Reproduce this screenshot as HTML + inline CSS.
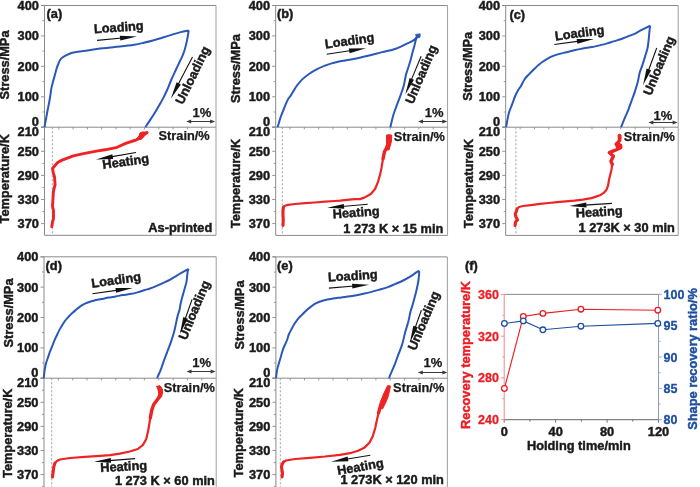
<!DOCTYPE html>
<html><head><meta charset="utf-8"><style>
html,body{margin:0;padding:0;background:#fff;overflow:hidden;}
svg{display:block;}
text{font-family:"Liberation Sans", Arial, sans-serif;font-weight:bold;}
</style></head><body>
<svg width="700" height="487" viewBox="0 0 700 487">
<rect width="700" height="487" fill="#fff"/>
<path d="M216.0,5.5 V235.3" fill="none" stroke="#a6a6a6" stroke-width="1.1"/>
<path d="M41.0,5.5 H216.0 M44.5,5.5 V235.3 H216.0 M41.0,127.2 H216.0" fill="none" stroke="#8a8a8a" stroke-width="1"/>
<path d="M41.0,127.2H44.5 M42.5,112.0H44.5 M41.0,96.8H44.5 M42.5,81.6H44.5 M41.0,66.3H44.5 M42.5,51.1H44.5 M41.0,35.9H44.5 M42.5,20.7H44.5 M41.0,5.5H44.5 M41.0,127.2H44.5 M42.5,139.2H44.5 M41.0,151.3H44.5 M42.5,163.4H44.5 M41.0,175.4H44.5 M42.5,187.4H44.5 M41.0,199.5H44.5 M42.5,211.6H44.5 M41.0,223.6H44.5 M58.8,127.2V129.4 M73.1,127.2V129.4 M87.4,127.2V129.4 M101.7,127.2V129.4 M116.0,127.2V129.4 M130.2,127.2V129.4 M144.5,127.2V129.4 M158.8,127.2V129.4 M173.1,127.2V129.4 M187.4,127.2V129.4 M201.7,127.2V129.4" stroke="#8a8a8a" stroke-width="0.9" fill="none"/>
<line x1="52.3" y1="127.2" x2="52.3" y2="235.3" stroke="#9a9a9a" stroke-width="0.9" stroke-dasharray="2.2,1.8"/>
<text transform="translate(38.90,9.90)" font-size="12.8" text-anchor="end" fill="#1a1a1a" stroke="#1a1a1a" stroke-width="0.45">400</text>
<text transform="translate(38.90,40.32)" font-size="12.8" text-anchor="end" fill="#1a1a1a" stroke="#1a1a1a" stroke-width="0.45">300</text>
<text transform="translate(38.90,70.75)" font-size="12.8" text-anchor="end" fill="#1a1a1a" stroke="#1a1a1a" stroke-width="0.45">200</text>
<text transform="translate(38.90,101.18)" font-size="12.8" text-anchor="end" fill="#1a1a1a" stroke="#1a1a1a" stroke-width="0.45">100</text>
<text transform="translate(38.90,126.00)" font-size="12.8" text-anchor="end" fill="#1a1a1a" stroke="#1a1a1a" stroke-width="0.45">0</text>
<text transform="translate(38.90,136.00)" font-size="12.8" text-anchor="end" fill="#1a1a1a" stroke="#1a1a1a" stroke-width="0.45">210</text>
<text transform="translate(38.90,155.70)" font-size="12.8" text-anchor="end" fill="#1a1a1a" stroke="#1a1a1a" stroke-width="0.45">250</text>
<text transform="translate(38.90,179.80)" font-size="12.8" text-anchor="end" fill="#1a1a1a" stroke="#1a1a1a" stroke-width="0.45">290</text>
<text transform="translate(38.90,203.90)" font-size="12.8" text-anchor="end" fill="#1a1a1a" stroke="#1a1a1a" stroke-width="0.45">330</text>
<text transform="translate(38.90,228.00)" font-size="12.8" text-anchor="end" fill="#1a1a1a" stroke="#1a1a1a" stroke-width="0.45">370</text>
<text transform="translate(9.30,65.00) rotate(-90)" font-size="12.8" text-anchor="middle" fill="#1a1a1a" stroke="#1a1a1a" stroke-width="0.45">Stress/MPa</text>
<text transform="translate(9.30,178.80) rotate(-90)" font-size="12.8" text-anchor="middle" fill="#1a1a1a" stroke="#1a1a1a" stroke-width="0.45">Temperature/K</text>
<text transform="translate(46.60,17.90)" font-size="12.8" text-anchor="start" fill="#1a1a1a" stroke="#1a1a1a" stroke-width="0.45">(a)</text>
<path d="M44.60,127.20 C44.68,126.60 44.83,125.13 45.10,123.60 C45.37,122.07 45.82,120.07 46.20,118.00 C46.58,115.93 46.93,113.65 47.40,111.20 C47.87,108.75 48.53,105.75 49.00,103.30 C49.47,100.85 49.82,98.95 50.20,96.50 C50.58,94.05 50.83,91.05 51.30,88.60 C51.77,86.15 52.38,84.15 53.00,81.80 C53.62,79.45 54.40,76.72 55.00,74.50 C55.60,72.28 56.02,70.33 56.60,68.50 C57.18,66.67 57.88,64.95 58.50,63.50 C59.12,62.05 59.58,60.83 60.30,59.80 C61.02,58.77 61.77,58.07 62.80,57.30 C63.83,56.53 65.05,55.92 66.50,55.20 C67.95,54.48 69.65,53.57 71.50,53.00 C73.35,52.43 74.93,52.23 77.60,51.80 C80.27,51.37 83.77,50.93 87.50,50.40 C91.23,49.87 96.25,49.07 100.00,48.60 C103.75,48.13 106.67,47.93 110.00,47.60 C113.33,47.27 115.95,47.08 120.00,46.60 C124.05,46.12 130.37,45.33 134.30,44.70 C138.23,44.07 140.50,43.50 143.60,42.80 C146.70,42.10 149.82,41.35 152.90,40.50 C155.98,39.65 159.02,38.63 162.10,37.70 C165.18,36.77 168.30,35.83 171.40,34.90 C174.50,33.97 177.80,32.85 180.70,32.10 C183.60,31.35 187.45,30.68 188.80,30.40M188.80,30.40 C188.72,30.83 188.63,31.17 188.30,33.00 C187.97,34.83 187.40,38.62 186.80,41.40 C186.20,44.18 185.45,47.23 184.70,49.70 C183.95,52.17 183.00,54.48 182.30,56.20 C181.60,57.92 181.58,57.70 180.50,60.00 C179.42,62.30 177.35,66.67 175.80,70.00 C174.25,73.33 172.65,76.67 171.20,80.00 C169.75,83.33 168.37,87.10 167.10,90.00 C165.83,92.90 164.75,95.15 163.60,97.40 C162.45,99.65 161.37,101.45 160.20,103.50 C159.03,105.55 157.78,107.70 156.60,109.70 C155.42,111.70 154.22,113.72 153.10,115.50 C151.98,117.28 150.98,118.77 149.90,120.40 C148.82,122.03 147.33,124.17 146.60,125.30 C145.87,126.43 145.68,126.88 145.50,127.20" fill="none" stroke="#2a58b8" stroke-width="2.0" stroke-linejoin="round"/>
<polyline points="51.8,226.6 52.5,222.0 53.5,218.5 53.5,210.8 52.5,206.2 52.9,200.0 53.5,190.8 55.1,184.6 54.5,176.9 53.2,172.3 52.5,168.5 55.0,165.5 57.9,162.3 62.1,160.1 73.3,155.9 83.6,153.7 96.4,151.1 105.0,149.8 117.1,147.3 125.7,143.4 136.0,140.0 141.1,137.9 145.0,134.0 147.1,132.5" fill="none" stroke="#ee2424" stroke-width="2.9" stroke-linejoin="round" stroke-linecap="round"/>
<polygon points="136.0,139.0 139.0,136.0 140.0,133.0 142.0,132.0 147.6,132.0 147.5,133.5 144.0,134.5 143.0,137.0 141.0,139.5" fill="#ee2424" stroke="#ee2424" stroke-width="1" stroke-linejoin="round"/>
<text transform="translate(94.20,33.30) rotate(-4)" font-size="12.8" text-anchor="start" fill="#1a1a1a" stroke="#1a1a1a" stroke-width="0.45">Loading</text>
<line x1="97.0" y1="40.4" x2="122.1" y2="38.0" stroke="#111" stroke-width="1.1"/>
<polygon points="137.0,36.6 120.3,40.6 119.8,35.8" fill="#111"/>
<text transform="translate(196.40,77.10) rotate(-64)" font-size="12.8" text-anchor="middle" fill="#1a1a1a" stroke="#1a1a1a" stroke-width="0.45">Unloading</text>
<line x1="192.5" y1="56.9" x2="177.8" y2="85.1" stroke="#111" stroke-width="1.1"/>
<polygon points="170.9,98.4 176.6,82.2 180.9,84.4" fill="#111"/>
<text transform="translate(211.40,116.60)" font-size="13" text-anchor="end" fill="#1a1a1a" stroke="#1a1a1a" stroke-width="0.25">1%</text>
<line x1="189.2" y1="121.5" x2="212.1" y2="121.5" stroke="#3a3a3a" stroke-width="1"/>
<polygon points="186.2,121.5 191.2,119.6 191.2,123.4" fill="#3a3a3a"/>
<polygon points="215.1,121.5 210.1,119.6 210.1,123.4" fill="#3a3a3a"/>
<text transform="translate(209.70,140.40)" font-size="12.8" text-anchor="end" fill="#1a1a1a" stroke="#1a1a1a" stroke-width="0.25">Strain/%</text>
<text transform="translate(103.00,169.00) rotate(-8)" font-size="12.8" text-anchor="start" fill="#1a1a1a" stroke="#1a1a1a" stroke-width="0.45">Heating</text>
<line x1="136.0" y1="152.5" x2="110.8" y2="156.9" stroke="#111" stroke-width="1.1"/>
<polygon points="96.0,159.5 112.3,154.2 113.2,158.9" fill="#111"/>
<text transform="translate(212.30,231.90)" font-size="12.8" text-anchor="end" fill="#1a1a1a" stroke="#1a1a1a" stroke-width="0.45">As-printed</text>
<path d="M447.5,5.5 V235.4" fill="none" stroke="#a6a6a6" stroke-width="1.1"/>
<path d="M272.2,5.5 H447.5 M275.7,5.5 V235.4 H447.5 M272.2,127.2 H447.5" fill="none" stroke="#8a8a8a" stroke-width="1"/>
<path d="M272.2,127.2H275.7 M273.7,112.0H275.7 M272.2,96.8H275.7 M273.7,81.6H275.7 M272.2,66.3H275.7 M273.7,51.1H275.7 M272.2,35.9H275.7 M273.7,20.7H275.7 M272.2,5.5H275.7 M272.2,127.2H275.7 M273.7,139.2H275.7 M272.2,151.3H275.7 M273.7,163.4H275.7 M272.2,175.4H275.7 M273.7,187.4H275.7 M272.2,199.5H275.7 M273.7,211.6H275.7 M272.2,223.6H275.7 M290.0,127.2V129.4 M304.3,127.2V129.4 M318.6,127.2V129.4 M333.0,127.2V129.4 M347.3,127.2V129.4 M361.6,127.2V129.4 M375.9,127.2V129.4 M390.2,127.2V129.4 M404.6,127.2V129.4 M418.9,127.2V129.4 M433.2,127.2V129.4" stroke="#8a8a8a" stroke-width="0.9" fill="none"/>
<line x1="282.3" y1="127.2" x2="282.3" y2="235.4" stroke="#9a9a9a" stroke-width="0.9" stroke-dasharray="2.2,1.8"/>
<text transform="translate(270.10,9.90)" font-size="12.8" text-anchor="end" fill="#1a1a1a" stroke="#1a1a1a" stroke-width="0.45">400</text>
<text transform="translate(270.10,40.32)" font-size="12.8" text-anchor="end" fill="#1a1a1a" stroke="#1a1a1a" stroke-width="0.45">300</text>
<text transform="translate(270.10,70.75)" font-size="12.8" text-anchor="end" fill="#1a1a1a" stroke="#1a1a1a" stroke-width="0.45">200</text>
<text transform="translate(270.10,101.18)" font-size="12.8" text-anchor="end" fill="#1a1a1a" stroke="#1a1a1a" stroke-width="0.45">100</text>
<text transform="translate(270.10,126.00)" font-size="12.8" text-anchor="end" fill="#1a1a1a" stroke="#1a1a1a" stroke-width="0.45">0</text>
<text transform="translate(270.10,136.00)" font-size="12.8" text-anchor="end" fill="#1a1a1a" stroke="#1a1a1a" stroke-width="0.45">210</text>
<text transform="translate(270.10,155.70)" font-size="12.8" text-anchor="end" fill="#1a1a1a" stroke="#1a1a1a" stroke-width="0.45">250</text>
<text transform="translate(270.10,179.80)" font-size="12.8" text-anchor="end" fill="#1a1a1a" stroke="#1a1a1a" stroke-width="0.45">290</text>
<text transform="translate(270.10,203.90)" font-size="12.8" text-anchor="end" fill="#1a1a1a" stroke="#1a1a1a" stroke-width="0.45">330</text>
<text transform="translate(270.10,228.00)" font-size="12.8" text-anchor="end" fill="#1a1a1a" stroke="#1a1a1a" stroke-width="0.45">370</text>
<text transform="translate(239.60,68.60) rotate(-90)" font-size="12.8" text-anchor="middle" fill="#1a1a1a" stroke="#1a1a1a" stroke-width="0.45">Stress/MPa</text>
<text transform="translate(240.00,183.50) rotate(-90)" font-size="12.8" text-anchor="middle" fill="#1a1a1a" stroke="#1a1a1a" stroke-width="0.45">Temperature/K</text>
<text transform="translate(277.00,17.90)" font-size="12.8" text-anchor="start" fill="#1a1a1a" stroke="#1a1a1a" stroke-width="0.45">(b)</text>
<path d="M277.60,127.20 C277.90,126.18 278.87,122.87 279.40,121.10 C279.93,119.33 280.27,118.10 280.80,116.60 C281.33,115.10 282.00,113.60 282.60,112.10 C283.20,110.60 283.80,109.10 284.40,107.60 C285.00,106.10 285.52,104.62 286.20,103.10 C286.88,101.58 287.67,99.87 288.50,98.50 C289.33,97.13 290.30,96.25 291.20,94.90 C292.10,93.55 292.93,91.97 293.90,90.40 C294.87,88.83 295.62,87.33 297.00,85.50 C298.38,83.67 300.13,81.37 302.20,79.40 C304.27,77.43 307.00,75.37 309.40,73.70 C311.80,72.03 314.22,70.67 316.60,69.40 C318.98,68.13 321.32,67.07 323.70,66.10 C326.08,65.13 328.50,64.32 330.90,63.60 C333.30,62.88 335.75,62.32 338.10,61.80 C340.45,61.28 342.42,60.97 345.00,60.50 C347.58,60.03 349.78,59.80 353.60,59.00 C357.42,58.20 363.15,56.85 367.90,55.70 C372.65,54.55 377.58,53.22 382.10,52.10 C386.62,50.98 391.13,50.28 395.00,49.00 C398.87,47.72 402.22,45.85 405.30,44.40 C408.38,42.95 411.37,41.75 413.50,40.30 C415.63,38.85 417.33,36.47 418.10,35.70M418.10,35.70 C417.77,36.28 416.70,37.58 416.10,39.20 C415.50,40.82 415.10,43.17 414.50,45.40 C413.90,47.63 413.18,50.03 412.50,52.60 C411.82,55.17 411.18,58.07 410.40,60.80 C409.62,63.53 408.55,66.63 407.80,69.00 C407.05,71.37 406.60,72.12 405.90,75.00 C405.20,77.88 404.63,82.53 403.60,86.30 C402.57,90.07 400.92,94.22 399.70,97.60 C398.48,100.98 397.33,103.78 396.30,106.60 C395.27,109.42 394.35,111.68 393.50,114.50 C392.65,117.32 391.72,121.38 391.20,123.50 C390.68,125.62 390.53,126.58 390.40,127.20" fill="none" stroke="#2a58b8" stroke-width="2.0" stroke-linejoin="round"/>
<polyline points="283.0,225.5 283.2,220.0 283.0,215.0 283.0,210.0 283.5,207.0 285.0,205.8 288.0,204.8 295.0,204.0 305.0,203.2 315.0,202.5 325.0,201.7 335.0,201.0 340.0,200.6 349.2,199.6 355.0,199.2 360.0,199.1 364.3,197.6 370.8,194.0 375.1,189.0 378.0,181.8 380.1,174.6 381.6,167.4 383.0,158.8 384.5,151.6 386.5,148.0 388.5,143.0 389.0,136.0" fill="none" stroke="#ee2424" stroke-width="2.2" stroke-linejoin="round" stroke-linecap="round"/>
<polygon points="415.6,34.5 420.2,33.8 420.0,37.3 416.5,38.0" fill="#2a58b8" stroke="#2a58b8" stroke-width="0.8" stroke-linejoin="round"/>
<polyline points="283.0,225.5 283.2,220.0 283.0,215.0 283.0,210.0 283.5,207.0" fill="none" stroke="#ee2424" stroke-width="3.0" stroke-linejoin="round" stroke-linecap="round"/>
<polyline points="383.0,158.8 384.5,151.6 386.5,148.0 388.5,143.0 389.0,136.0" fill="none" stroke="#ee2424" stroke-width="3.4" stroke-linejoin="round" stroke-linecap="round"/>
<polygon points="386.5,135.0 391.7,135.0 391.5,141.0 390.5,145.0 389.0,150.0 386.8,150.0 387.0,146.0 386.5,141.0" fill="#ee2424" stroke="#ee2424" stroke-width="1" stroke-linejoin="round"/>
<text transform="translate(325.40,48.40) rotate(-8)" font-size="12.8" text-anchor="start" fill="#1a1a1a" stroke="#1a1a1a" stroke-width="0.45">Loading</text>
<line x1="326.7" y1="54.3" x2="351.2" y2="50.5" stroke="#111" stroke-width="1.1"/>
<polygon points="366.0,48.2 349.6,53.2 348.8,48.4" fill="#111"/>
<text transform="translate(425.15,76.05) rotate(-67)" font-size="12.8" text-anchor="middle" fill="#1a1a1a" stroke="#1a1a1a" stroke-width="0.45">Unloading</text>
<line x1="421.1" y1="56.2" x2="411.0" y2="80.6" stroke="#111" stroke-width="1.1"/>
<polygon points="405.3,94.5 409.6,77.9 414.0,79.7" fill="#111"/>
<text transform="translate(443.60,117.40)" font-size="13" text-anchor="end" fill="#1a1a1a" stroke="#1a1a1a" stroke-width="0.25">1%</text>
<line x1="421.0" y1="121.5" x2="444.3" y2="121.5" stroke="#3a3a3a" stroke-width="1"/>
<polygon points="418.0,121.5 423.0,119.6 423.0,123.4" fill="#3a3a3a"/>
<polygon points="447.3,121.5 442.3,119.6 442.3,123.4" fill="#3a3a3a"/>
<text transform="translate(444.90,140.90)" font-size="12.8" text-anchor="end" fill="#1a1a1a" stroke="#1a1a1a" stroke-width="0.25">Strain/%</text>
<text transform="translate(333.00,218.50) rotate(-4)" font-size="12.8" text-anchor="start" fill="#1a1a1a" stroke="#1a1a1a" stroke-width="0.45">Heating</text>
<line x1="367.7" y1="204.2" x2="342.0" y2="206.5" stroke="#111" stroke-width="1.1"/>
<polygon points="327.1,207.8 343.8,203.9 344.2,208.7" fill="#111"/>
<text transform="translate(443.30,233.00)" font-size="12.8" text-anchor="end" fill="#1a1a1a" stroke="#1a1a1a" stroke-width="0.45">1 273 K × 15 min</text>
<path d="M678.2,5.5 V235.4" fill="none" stroke="#a6a6a6" stroke-width="1.1"/>
<path d="M502.2,5.5 H678.2 M505.7,5.5 V235.4 H678.2 M502.2,127.2 H678.2" fill="none" stroke="#8a8a8a" stroke-width="1"/>
<path d="M502.2,127.2H505.7 M503.7,112.0H505.7 M502.2,96.8H505.7 M503.7,81.6H505.7 M502.2,66.3H505.7 M503.7,51.1H505.7 M502.2,35.9H505.7 M503.7,20.7H505.7 M502.2,5.5H505.7 M502.2,127.2H505.7 M503.7,139.2H505.7 M502.2,151.3H505.7 M503.7,163.4H505.7 M502.2,175.4H505.7 M503.7,187.4H505.7 M502.2,199.5H505.7 M503.7,211.6H505.7 M502.2,223.6H505.7 M520.1,127.2V129.4 M534.5,127.2V129.4 M548.8,127.2V129.4 M563.2,127.2V129.4 M577.6,127.2V129.4 M592.0,127.2V129.4 M606.3,127.2V129.4 M620.7,127.2V129.4 M635.1,127.2V129.4 M649.5,127.2V129.4 M663.8,127.2V129.4" stroke="#8a8a8a" stroke-width="0.9" fill="none"/>
<line x1="515.9" y1="127.2" x2="515.9" y2="235.4" stroke="#9a9a9a" stroke-width="0.9" stroke-dasharray="2.2,1.8"/>
<text transform="translate(500.10,9.90)" font-size="12.8" text-anchor="end" fill="#1a1a1a" stroke="#1a1a1a" stroke-width="0.45">400</text>
<text transform="translate(500.10,40.32)" font-size="12.8" text-anchor="end" fill="#1a1a1a" stroke="#1a1a1a" stroke-width="0.45">300</text>
<text transform="translate(500.10,70.75)" font-size="12.8" text-anchor="end" fill="#1a1a1a" stroke="#1a1a1a" stroke-width="0.45">200</text>
<text transform="translate(500.10,101.18)" font-size="12.8" text-anchor="end" fill="#1a1a1a" stroke="#1a1a1a" stroke-width="0.45">100</text>
<text transform="translate(500.10,126.00)" font-size="12.8" text-anchor="end" fill="#1a1a1a" stroke="#1a1a1a" stroke-width="0.45">0</text>
<text transform="translate(500.10,136.00)" font-size="12.8" text-anchor="end" fill="#1a1a1a" stroke="#1a1a1a" stroke-width="0.45">210</text>
<text transform="translate(500.10,155.70)" font-size="12.8" text-anchor="end" fill="#1a1a1a" stroke="#1a1a1a" stroke-width="0.45">250</text>
<text transform="translate(500.10,179.80)" font-size="12.8" text-anchor="end" fill="#1a1a1a" stroke="#1a1a1a" stroke-width="0.45">290</text>
<text transform="translate(500.10,203.90)" font-size="12.8" text-anchor="end" fill="#1a1a1a" stroke="#1a1a1a" stroke-width="0.45">330</text>
<text transform="translate(500.10,228.00)" font-size="12.8" text-anchor="end" fill="#1a1a1a" stroke="#1a1a1a" stroke-width="0.45">370</text>
<text transform="translate(472.40,66.30) rotate(-90)" font-size="12.8" text-anchor="middle" fill="#1a1a1a" stroke="#1a1a1a" stroke-width="0.45">Stress/MPa</text>
<text transform="translate(473.20,183.50) rotate(-90)" font-size="12.8" text-anchor="middle" fill="#1a1a1a" stroke="#1a1a1a" stroke-width="0.45">Temperature/K</text>
<text transform="translate(509.40,19.00)" font-size="12.8" text-anchor="start" fill="#1a1a1a" stroke="#1a1a1a" stroke-width="0.45">(c)</text>
<path d="M506.10,127.20 C506.30,126.07 506.85,122.73 507.30,120.40 C507.75,118.07 508.20,115.35 508.80,113.20 C509.40,111.05 510.18,109.42 510.90,107.50 C511.62,105.58 512.38,103.62 513.10,101.70 C513.82,99.78 514.37,97.92 515.20,96.00 C516.03,94.08 517.13,91.88 518.10,90.20 C519.07,88.52 519.92,87.73 521.00,85.90 C522.08,84.07 523.28,81.12 524.60,79.20 C525.92,77.28 527.47,75.92 528.90,74.40 C530.33,72.88 531.52,71.73 533.20,70.10 C534.88,68.47 537.37,66.03 539.00,64.60 C540.63,63.17 541.05,62.78 543.00,61.50 C544.95,60.22 548.10,58.13 550.70,56.90 C553.30,55.67 555.98,54.88 558.60,54.10 C561.22,53.32 563.78,52.85 566.40,52.20 C569.02,51.55 571.53,50.82 574.30,50.20 C577.07,49.58 580.03,49.02 583.00,48.50 C585.97,47.98 589.38,47.62 592.10,47.10 C594.82,46.58 596.92,45.98 599.30,45.40 C601.68,44.82 604.02,44.27 606.40,43.60 C608.78,42.93 611.22,42.12 613.60,41.40 C615.98,40.68 618.32,40.13 620.70,39.30 C623.08,38.47 625.52,37.35 627.90,36.40 C630.28,35.45 633.15,34.45 635.00,33.60 C636.85,32.75 637.20,32.25 639.00,31.30 C640.80,30.35 643.92,28.85 645.80,27.90 C647.68,26.95 649.55,25.98 650.30,25.60M650.30,25.60 C650.20,26.17 649.98,26.55 649.70,29.00 C649.42,31.45 648.97,37.10 648.60,40.30 C648.23,43.50 648.07,45.57 647.50,48.20 C646.93,50.83 646.05,53.28 645.20,56.10 C644.35,58.92 643.33,62.28 642.40,65.10 C641.47,67.92 640.38,70.13 639.60,73.00 C638.82,75.87 638.52,79.12 637.70,82.30 C636.88,85.48 635.72,89.03 634.70,92.10 C633.68,95.17 632.63,97.83 631.60,100.70 C630.57,103.57 629.63,106.42 628.50,109.30 C627.37,112.18 625.92,115.33 624.80,118.00 C623.68,120.67 622.43,123.77 621.80,125.30 C621.17,126.83 621.13,126.88 621.00,127.20" fill="none" stroke="#2a58b8" stroke-width="2.0" stroke-linejoin="round"/>
<polyline points="515.0,225.5 515.5,222.0 517.5,220.0 516.0,217.0 515.2,214.0 516.5,211.0 517.0,209.0 519.0,207.0 523.0,206.0 533.0,204.8 540.0,203.9 548.6,203.0 557.1,202.2 565.7,201.4 574.3,200.7 582.8,199.6 591.4,198.1 596.0,196.6 600.0,195.3 604.0,192.7 606.5,189.7 608.1,185.5 609.0,179.8 610.2,174.9 611.4,169.9 612.3,164.5 610.9,161.2 613.4,156.3 609.3,152.6 612.3,151.4 616.4,149.7 620.5,147.7 620.5,145.5 616.2,144.2 618.0,142.3 619.5,140.7 619.6,138.2 619.5,135.5" fill="none" stroke="#ee2424" stroke-width="2.2" stroke-linejoin="round" stroke-linecap="round"/>
<polyline points="515.0,225.5 515.5,222.0 517.5,220.0 516.0,217.0 515.2,214.0 516.5,211.0 517.0,209.0" fill="none" stroke="#ee2424" stroke-width="3.0" stroke-linejoin="round" stroke-linecap="round"/>
<polyline points="612.3,164.5 610.9,161.2 613.4,156.3 609.3,152.6 612.3,151.4 616.4,149.7 620.5,147.7 620.5,145.5 616.2,144.2 618.0,142.3 619.5,140.7 619.6,138.2 619.5,135.5" fill="none" stroke="#ee2424" stroke-width="3.4" stroke-linejoin="round" stroke-linecap="round"/>
<polygon points="615.5,144.5 618.0,143.0 621.5,144.5 622.0,147.5 619.0,149.0 616.5,148.0" fill="#ee2424" stroke="#ee2424" stroke-width="1" stroke-linejoin="round"/>
<polygon points="618.2,135.0 621.0,135.0 620.8,141.0 618.5,141.5" fill="#ee2424" stroke="#ee2424" stroke-width="1" stroke-linejoin="round"/>
<text transform="translate(555.50,40.40) rotate(-7.5)" font-size="12.8" text-anchor="start" fill="#1a1a1a" stroke="#1a1a1a" stroke-width="0.45">Loading</text>
<line x1="554.3" y1="44.5" x2="579.0" y2="41.1" stroke="#111" stroke-width="1.1"/>
<polygon points="593.9,39.1 577.4,43.8 576.7,39.0" fill="#111"/>
<text transform="translate(662.95,67.45) rotate(-67.5)" font-size="12.8" text-anchor="middle" fill="#1a1a1a" stroke="#1a1a1a" stroke-width="0.45">Unloading</text>
<line x1="656.7" y1="48.0" x2="648.2" y2="71.2" stroke="#111" stroke-width="1.1"/>
<polygon points="643.0,85.3 646.6,68.5 651.1,70.2" fill="#111"/>
<text transform="translate(672.30,120.20)" font-size="13" text-anchor="end" fill="#1a1a1a" stroke="#1a1a1a" stroke-width="0.25">1%</text>
<line x1="651.4" y1="122.5" x2="674.6" y2="122.5" stroke="#3a3a3a" stroke-width="1"/>
<polygon points="648.4,122.5 653.4,120.6 653.4,124.4" fill="#3a3a3a"/>
<polygon points="677.6,122.5 672.6,120.6 672.6,124.4" fill="#3a3a3a"/>
<text transform="translate(674.90,140.90)" font-size="12.8" text-anchor="end" fill="#1a1a1a" stroke="#1a1a1a" stroke-width="0.25">Strain/%</text>
<text transform="translate(575.90,217.40) rotate(-3)" font-size="12.8" text-anchor="start" fill="#1a1a1a" stroke="#1a1a1a" stroke-width="0.45">Heating</text>
<line x1="611.9" y1="203.4" x2="584.4" y2="205.1" stroke="#111" stroke-width="1.1"/>
<polygon points="569.4,206.0 586.2,202.6 586.5,207.4" fill="#111"/>
<text transform="translate(674.90,232.00)" font-size="12.8" text-anchor="end" fill="#1a1a1a" stroke="#1a1a1a" stroke-width="0.45">1 273K × 30 min</text>
<path d="M216.2,256.8 V488.0" fill="none" stroke="#a6a6a6" stroke-width="1.1"/>
<path d="M40.5,256.8 H216.2 M44.0,256.8 V488.0 H216.2 M40.5,378.2 H216.2" fill="none" stroke="#8a8a8a" stroke-width="1"/>
<path d="M40.5,378.2H44.0 M42.0,363.0H44.0 M40.5,347.9H44.0 M42.0,332.7H44.0 M40.5,317.5H44.0 M42.0,302.3H44.0 M40.5,287.1H44.0 M42.0,272.0H44.0 M40.5,256.8H44.0 M40.5,378.2H44.0 M42.0,390.2H44.0 M40.5,402.3H44.0 M42.0,414.4H44.0 M40.5,426.4H44.0 M42.0,438.4H44.0 M40.5,450.5H44.0 M42.0,462.6H44.0 M40.5,474.6H44.0 M42.0,486.6H44.0 M58.4,378.2V380.4 M72.7,378.2V380.4 M87.0,378.2V380.4 M101.4,378.2V380.4 M115.8,378.2V380.4 M130.1,378.2V380.4 M144.4,378.2V380.4 M158.8,378.2V380.4 M173.2,378.2V380.4 M187.5,378.2V380.4 M201.8,378.2V380.4" stroke="#8a8a8a" stroke-width="0.9" fill="none"/>
<line x1="51.7" y1="378.2" x2="51.7" y2="488.0" stroke="#9a9a9a" stroke-width="0.9" stroke-dasharray="2.2,1.8"/>
<text transform="translate(38.40,261.20)" font-size="12.8" text-anchor="end" fill="#1a1a1a" stroke="#1a1a1a" stroke-width="0.45">400</text>
<text transform="translate(38.40,291.55)" font-size="12.8" text-anchor="end" fill="#1a1a1a" stroke="#1a1a1a" stroke-width="0.45">300</text>
<text transform="translate(38.40,321.90)" font-size="12.8" text-anchor="end" fill="#1a1a1a" stroke="#1a1a1a" stroke-width="0.45">200</text>
<text transform="translate(38.40,352.25)" font-size="12.8" text-anchor="end" fill="#1a1a1a" stroke="#1a1a1a" stroke-width="0.45">100</text>
<text transform="translate(38.40,377.00)" font-size="12.8" text-anchor="end" fill="#1a1a1a" stroke="#1a1a1a" stroke-width="0.45">0</text>
<text transform="translate(38.40,387.00)" font-size="12.8" text-anchor="end" fill="#1a1a1a" stroke="#1a1a1a" stroke-width="0.45">210</text>
<text transform="translate(38.40,406.70)" font-size="12.8" text-anchor="end" fill="#1a1a1a" stroke="#1a1a1a" stroke-width="0.45">250</text>
<text transform="translate(38.40,430.80)" font-size="12.8" text-anchor="end" fill="#1a1a1a" stroke="#1a1a1a" stroke-width="0.45">290</text>
<text transform="translate(38.40,454.90)" font-size="12.8" text-anchor="end" fill="#1a1a1a" stroke="#1a1a1a" stroke-width="0.45">330</text>
<text transform="translate(38.40,479.00)" font-size="12.8" text-anchor="end" fill="#1a1a1a" stroke="#1a1a1a" stroke-width="0.45">370</text>
<text transform="translate(12.50,313.00) rotate(-90)" font-size="12.8" text-anchor="middle" fill="#1a1a1a" stroke="#1a1a1a" stroke-width="0.45">Stress/MPa</text>
<text transform="translate(11.70,433.30) rotate(-90)" font-size="12.8" text-anchor="middle" fill="#1a1a1a" stroke="#1a1a1a" stroke-width="0.45">Temperature/K</text>
<text transform="translate(45.60,269.80)" font-size="12.8" text-anchor="start" fill="#1a1a1a" stroke="#1a1a1a" stroke-width="0.45">(d)</text>
<path d="M43.70,378.20 C43.80,377.32 44.10,374.50 44.30,372.90 C44.50,371.30 44.60,370.25 44.90,368.60 C45.20,366.95 45.58,364.85 46.10,363.00 C46.62,361.15 47.38,359.33 48.00,357.50 C48.62,355.67 49.08,353.95 49.80,352.00 C50.52,350.05 51.47,347.85 52.30,345.80 C53.13,343.75 53.98,341.58 54.80,339.70 C55.62,337.82 56.40,336.18 57.20,334.50 C58.00,332.82 58.83,331.03 59.60,329.60 C60.37,328.17 60.92,327.33 61.80,325.90 C62.68,324.47 63.77,322.53 64.90,321.00 C66.03,319.47 67.37,318.03 68.60,316.70 C69.83,315.37 71.07,314.15 72.30,313.00 C73.53,311.85 74.72,310.87 76.00,309.80 C77.28,308.73 78.75,307.50 80.00,306.60 C81.25,305.70 82.32,305.05 83.50,304.40 C84.68,303.75 85.30,303.35 87.10,302.70 C88.90,302.05 91.92,301.10 94.30,300.50 C96.68,299.90 99.02,299.58 101.40,299.10 C103.78,298.62 106.22,298.05 108.60,297.60 C110.98,297.15 113.32,296.82 115.70,296.40 C118.08,295.98 120.52,295.48 122.90,295.10 C125.28,294.72 127.57,294.55 130.00,294.10 C132.43,293.65 135.00,293.08 137.50,292.40 C140.00,291.72 142.92,290.65 145.00,290.00 C147.08,289.35 148.13,289.15 150.00,288.50 C151.87,287.85 154.15,286.97 156.20,286.10 C158.25,285.23 160.25,284.23 162.30,283.30 C164.35,282.37 166.43,281.58 168.50,280.50 C170.57,279.42 172.63,278.03 174.70,276.80 C176.77,275.57 179.05,274.18 180.90,273.10 C182.75,272.02 184.52,271.02 185.80,270.30 C187.08,269.58 188.13,269.05 188.60,268.80M188.60,268.80 C188.45,269.22 187.97,269.87 187.70,271.30 C187.43,272.73 187.22,275.55 187.00,277.40 C186.78,279.25 186.70,280.85 186.40,282.40 C186.10,283.95 185.60,285.27 185.20,286.70 C184.80,288.13 184.53,289.12 184.00,291.00 C183.47,292.88 182.58,295.80 182.00,298.00 C181.42,300.20 180.92,302.20 180.50,304.20 C180.08,306.20 179.98,308.03 179.50,310.00 C179.02,311.97 178.25,313.45 177.60,316.00 C176.95,318.55 176.20,322.58 175.60,325.30 C175.00,328.02 174.78,329.50 174.00,332.30 C173.22,335.10 172.03,338.82 170.90,342.10 C169.77,345.38 168.43,348.72 167.20,352.00 C165.97,355.28 164.62,358.73 163.50,361.80 C162.38,364.87 161.42,368.05 160.50,370.40 C159.58,372.75 158.55,374.60 158.00,375.90 C157.45,377.20 157.33,377.82 157.20,378.20" fill="none" stroke="#2a58b8" stroke-width="2.0" stroke-linejoin="round"/>
<polyline points="52.5,477.0 53.0,473.0 53.5,469.0 54.0,466.0 55.0,463.0 57.0,461.0 60.0,459.5 70.0,458.0 85.0,456.8 100.0,455.8 110.0,455.2 119.9,453.6 129.7,451.5 137.9,449.0 142.9,444.9 146.2,439.2 148.1,431.0 149.5,422.7 150.3,417.8 151.9,409.6 153.6,404.7 156.0,401.4 158.5,398.1 160.1,394.8 159.3,389.9 158.5,387.4" fill="none" stroke="#ee2424" stroke-width="2.2" stroke-linejoin="round" stroke-linecap="round"/>
<polyline points="52.5,477.0 53.0,473.0 53.5,469.0 54.0,466.0 55.0,463.0" fill="none" stroke="#ee2424" stroke-width="3.0" stroke-linejoin="round" stroke-linecap="round"/>
<polyline points="150.3,417.8 151.9,409.6 153.6,404.7 156.0,401.4 158.5,398.1 160.1,394.8 159.3,389.9 158.5,387.4" fill="none" stroke="#ee2424" stroke-width="3.4" stroke-linejoin="round" stroke-linecap="round"/>
<polygon points="156.5,386.5 160.0,385.7 162.3,389.0 162.5,393.0 161.5,397.0 159.5,398.7 158.5,395.0 160.0,392.0 158.5,389.0" fill="#ee2424" stroke="#ee2424" stroke-width="1" stroke-linejoin="round"/>
<text transform="translate(92.10,287.70) rotate(-8)" font-size="12.8" text-anchor="start" fill="#1a1a1a" stroke="#1a1a1a" stroke-width="0.45">Loading</text>
<line x1="92.4" y1="293.8" x2="117.9" y2="290.1" stroke="#111" stroke-width="1.1"/>
<polygon points="132.7,287.9 116.2,292.7 115.5,288.0" fill="#111"/>
<text transform="translate(198.15,311.75) rotate(-67.5)" font-size="12.8" text-anchor="middle" fill="#1a1a1a" stroke="#1a1a1a" stroke-width="0.45">Unloading</text>
<line x1="192.1" y1="299.4" x2="184.9" y2="319.8" stroke="#111" stroke-width="1.1"/>
<polygon points="179.9,333.9 183.3,317.1 187.8,318.7" fill="#111"/>
<text transform="translate(211.00,366.50)" font-size="13" text-anchor="end" fill="#1a1a1a" stroke="#1a1a1a" stroke-width="0.25">1%</text>
<line x1="189.5" y1="371.5" x2="212.6" y2="371.5" stroke="#3a3a3a" stroke-width="1"/>
<polygon points="186.5,371.5 191.5,369.6 191.5,373.4" fill="#3a3a3a"/>
<polygon points="215.6,371.5 210.6,369.6 210.6,373.4" fill="#3a3a3a"/>
<text transform="translate(214.90,391.70)" font-size="12.8" text-anchor="end" fill="#1a1a1a" stroke="#1a1a1a" stroke-width="0.25">Strain/%</text>
<text transform="translate(100.40,472.00) rotate(-3)" font-size="12.8" text-anchor="start" fill="#1a1a1a" stroke="#1a1a1a" stroke-width="0.45">Heating</text>
<line x1="135.1" y1="458.6" x2="109.0" y2="460.6" stroke="#111" stroke-width="1.1"/>
<polygon points="94.0,461.7 110.8,458.0 111.1,462.8" fill="#111"/>
<text transform="translate(214.90,485.00)" font-size="12.8" text-anchor="end" fill="#1a1a1a" stroke="#1a1a1a" stroke-width="0.45">1 273 K × 60 min</text>
<path d="M447.4,256.9 V488.0" fill="none" stroke="#a6a6a6" stroke-width="1.1"/>
<path d="M272.4,256.9 H447.4 M275.9,256.9 V488.0 H447.4 M272.4,378.2 H447.4" fill="none" stroke="#8a8a8a" stroke-width="1"/>
<path d="M272.4,378.2H275.9 M273.9,363.0H275.9 M272.4,347.9H275.9 M273.9,332.7H275.9 M272.4,317.5H275.9 M273.9,302.4H275.9 M272.4,287.2H275.9 M273.9,272.1H275.9 M272.4,256.9H275.9 M272.4,378.2H275.9 M273.9,390.2H275.9 M272.4,402.3H275.9 M273.9,414.4H275.9 M272.4,426.4H275.9 M273.9,438.4H275.9 M272.4,450.5H275.9 M273.9,462.6H275.9 M272.4,474.6H275.9 M273.9,486.6H275.9 M290.2,378.2V380.4 M304.5,378.2V380.4 M318.8,378.2V380.4 M333.1,378.2V380.4 M347.4,378.2V380.4 M361.6,378.2V380.4 M375.9,378.2V380.4 M390.2,378.2V380.4 M404.5,378.2V380.4 M418.8,378.2V380.4 M433.1,378.2V380.4" stroke="#8a8a8a" stroke-width="0.9" fill="none"/>
<line x1="280.3" y1="378.2" x2="280.3" y2="488.0" stroke="#9a9a9a" stroke-width="0.9" stroke-dasharray="2.2,1.8"/>
<text transform="translate(270.30,261.30)" font-size="12.8" text-anchor="end" fill="#1a1a1a" stroke="#1a1a1a" stroke-width="0.45">400</text>
<text transform="translate(270.30,291.62)" font-size="12.8" text-anchor="end" fill="#1a1a1a" stroke="#1a1a1a" stroke-width="0.45">300</text>
<text transform="translate(270.30,321.95)" font-size="12.8" text-anchor="end" fill="#1a1a1a" stroke="#1a1a1a" stroke-width="0.45">200</text>
<text transform="translate(270.30,352.27)" font-size="12.8" text-anchor="end" fill="#1a1a1a" stroke="#1a1a1a" stroke-width="0.45">100</text>
<text transform="translate(270.30,377.00)" font-size="12.8" text-anchor="end" fill="#1a1a1a" stroke="#1a1a1a" stroke-width="0.45">0</text>
<text transform="translate(270.30,387.00)" font-size="12.8" text-anchor="end" fill="#1a1a1a" stroke="#1a1a1a" stroke-width="0.45">210</text>
<text transform="translate(270.30,406.70)" font-size="12.8" text-anchor="end" fill="#1a1a1a" stroke="#1a1a1a" stroke-width="0.45">250</text>
<text transform="translate(270.30,430.80)" font-size="12.8" text-anchor="end" fill="#1a1a1a" stroke="#1a1a1a" stroke-width="0.45">290</text>
<text transform="translate(270.30,454.90)" font-size="12.8" text-anchor="end" fill="#1a1a1a" stroke="#1a1a1a" stroke-width="0.45">330</text>
<text transform="translate(270.30,479.00)" font-size="12.8" text-anchor="end" fill="#1a1a1a" stroke="#1a1a1a" stroke-width="0.45">370</text>
<text transform="translate(243.50,315.00) rotate(-90)" font-size="12.8" text-anchor="middle" fill="#1a1a1a" stroke="#1a1a1a" stroke-width="0.45">Stress/MPa</text>
<text transform="translate(242.80,432.70) rotate(-90)" font-size="12.8" text-anchor="middle" fill="#1a1a1a" stroke="#1a1a1a" stroke-width="0.45">Temperature/K</text>
<text transform="translate(277.00,270.20)" font-size="12.8" text-anchor="start" fill="#1a1a1a" stroke="#1a1a1a" stroke-width="0.45">(e)</text>
<path d="M276.00,378.20 C276.20,376.73 276.70,371.95 277.20,369.40 C277.70,366.85 278.38,365.05 279.00,362.90 C279.62,360.75 280.22,358.80 280.90,356.50 C281.58,354.20 282.07,351.85 283.10,349.10 C284.13,346.35 286.15,342.43 287.10,340.00 C288.05,337.57 288.10,336.23 288.80,334.50 C289.50,332.77 290.35,331.38 291.30,329.60 C292.25,327.82 293.28,325.72 294.50,323.80 C295.72,321.88 297.22,319.73 298.60,318.10 C299.98,316.47 301.42,315.37 302.80,314.00 C304.18,312.63 305.53,311.13 306.90,309.90 C308.27,308.67 309.53,307.70 311.00,306.60 C312.47,305.50 313.48,304.35 315.70,303.30 C317.92,302.25 321.45,301.08 324.30,300.30 C327.15,299.52 329.95,299.08 332.80,298.60 C335.65,298.12 337.93,297.88 341.40,297.40 C344.87,296.92 350.15,296.27 353.60,295.70 C357.05,295.13 359.25,294.60 362.10,294.00 C364.95,293.40 367.83,292.82 370.70,292.10 C373.57,291.38 376.45,290.53 379.30,289.70 C382.15,288.87 385.18,288.03 387.80,287.10 C390.42,286.17 392.43,285.20 395.00,284.10 C397.57,283.00 400.47,281.87 403.20,280.50 C405.93,279.13 409.35,277.18 411.40,275.90 C413.45,274.62 414.22,273.67 415.50,272.80 C416.78,271.93 418.50,271.05 419.10,270.70M419.10,270.70 C419.10,271.30 419.27,272.33 419.10,274.30 C418.93,276.27 418.52,279.93 418.10,282.50 C417.68,285.07 417.20,287.12 416.60,289.70 C416.00,292.28 415.18,295.42 414.50,298.00 C413.82,300.58 413.18,302.87 412.50,305.20 C411.82,307.53 411.07,309.37 410.40,312.00 C409.73,314.63 409.37,317.62 408.50,321.00 C407.63,324.38 406.27,328.37 405.20,332.30 C404.13,336.23 403.23,340.92 402.10,344.60 C400.97,348.28 399.62,351.12 398.40,354.40 C397.18,357.68 395.92,361.43 394.80,364.30 C393.68,367.17 392.53,369.67 391.70,371.60 C390.87,373.53 390.22,374.80 389.80,375.90 C389.38,377.00 389.30,377.82 389.20,378.20" fill="none" stroke="#2a58b8" stroke-width="2.0" stroke-linejoin="round"/>
<polyline points="282.0,477.0 282.5,473.0 282.0,470.0 281.5,467.0 282.0,464.5 283.5,462.0 286.0,460.5 295.0,459.0 310.0,457.8 325.0,456.5 340.0,454.8 349.9,453.2 358.1,450.7 364.7,447.4 369.6,442.5 372.9,435.9 375.3,427.7 377.0,419.5 378.6,412.9 380.3,406.3 381.9,401.4 384.4,396.4 386.9,391.5 388.5,386.9" fill="none" stroke="#ee2424" stroke-width="2.2" stroke-linejoin="round" stroke-linecap="round"/>
<polyline points="282.0,477.0 282.5,473.0 282.0,470.0 281.5,467.0 282.0,464.5 283.5,462.0" fill="none" stroke="#ee2424" stroke-width="3.0" stroke-linejoin="round" stroke-linecap="round"/>
<polyline points="378.6,412.9 380.3,406.3 381.9,401.4 384.4,396.4 386.9,391.5 388.5,386.9" fill="none" stroke="#ee2424" stroke-width="3.4" stroke-linejoin="round" stroke-linecap="round"/>
<polygon points="379.8,408.0 381.0,401.0 383.5,394.0 386.0,389.0 387.5,386.0 390.5,386.0 389.5,391.0 388.0,397.0 385.5,403.0 382.5,409.0" fill="#ee2424" stroke="#ee2424" stroke-width="1" stroke-linejoin="round"/>
<text transform="translate(328.20,281.60) rotate(-3.5)" font-size="12.8" text-anchor="start" fill="#1a1a1a" stroke="#1a1a1a" stroke-width="0.45">Loading</text>
<line x1="328.9" y1="288.1" x2="354.2" y2="286.0" stroke="#111" stroke-width="1.1"/>
<polygon points="369.1,284.7 352.4,288.5 352.0,283.7" fill="#111"/>
<text transform="translate(427.65,322.45) rotate(-67)" font-size="12.8" text-anchor="middle" fill="#1a1a1a" stroke="#1a1a1a" stroke-width="0.45">Unloading</text>
<line x1="421.4" y1="310.2" x2="414.9" y2="328.4" stroke="#111" stroke-width="1.1"/>
<polygon points="409.9,342.5 413.3,325.7 417.9,327.3" fill="#111"/>
<text transform="translate(442.30,366.50)" font-size="13" text-anchor="end" fill="#1a1a1a" stroke="#1a1a1a" stroke-width="0.25">1%</text>
<line x1="420.8" y1="372.5" x2="444.4" y2="372.5" stroke="#3a3a3a" stroke-width="1"/>
<polygon points="417.8,372.5 422.8,370.6 422.8,374.4" fill="#3a3a3a"/>
<polygon points="447.4,372.5 442.4,370.6 442.4,374.4" fill="#3a3a3a"/>
<text transform="translate(444.30,391.70)" font-size="12.8" text-anchor="end" fill="#1a1a1a" stroke="#1a1a1a" stroke-width="0.25">Strain/%</text>
<text transform="translate(338.00,475.00) rotate(-10)" font-size="12.8" text-anchor="start" fill="#1a1a1a" stroke="#1a1a1a" stroke-width="0.45">Heating</text>
<line x1="370.3" y1="455.2" x2="346.0" y2="459.2" stroke="#111" stroke-width="1.1"/>
<polygon points="331.2,461.7 347.6,456.5 348.4,461.3" fill="#111"/>
<text transform="translate(443.90,484.20)" font-size="12.8" text-anchor="end" fill="#1a1a1a" stroke="#1a1a1a" stroke-width="0.45">1 273K × 120 min</text>
<path d="M504.2,294.4H658.5" stroke="#8a8a8a" stroke-width="1"/>
<path d="M504.2,419.7H658.5" stroke="#666" stroke-width="1"/>
<path d="M504.2,294.4V419.7" stroke="#ec8a8c" stroke-width="1"/>
<path d="M658.5,294.4V419.7" stroke="#8c9cc0" stroke-width="1"/>
<path d="M500.9,294.4H504.2 M502.2,315.3H504.2 M500.9,336.2H504.2 M502.2,357.0H504.2 M500.9,377.9H504.2 M502.2,398.8H504.2 M500.9,419.7H504.2" stroke="#ec8a8c" stroke-width="0.9"/>
<path d="M658.5,294.4H661.8 M658.5,310.1H660.5 M658.5,325.7H661.8 M658.5,341.4H660.5 M658.5,357.0H661.8 M658.5,372.7H660.5 M658.5,388.4H661.8 M658.5,404.0H660.5 M658.5,419.7H661.8" stroke="#8c9cc0" stroke-width="0.9"/>
<path d="M504.2,419.7V422.7 M529.9,419.7V421.7 M555.6,419.7V422.7 M581.4,419.7V421.7 M607.1,419.7V422.7 M632.8,419.7V421.7 M658.5,419.7V422.7" stroke="#666" stroke-width="0.9"/>
<text transform="translate(498.90,298.90)" font-size="12.5" text-anchor="end" fill="#ec1c24" stroke="#ec1c24" stroke-width="0.3">360</text>
<text transform="translate(498.90,340.67)" font-size="12.5" text-anchor="end" fill="#ec1c24" stroke="#ec1c24" stroke-width="0.3">320</text>
<text transform="translate(498.90,382.43)" font-size="12.5" text-anchor="end" fill="#ec1c24" stroke="#ec1c24" stroke-width="0.3">280</text>
<text transform="translate(498.90,424.20)" font-size="12.5" text-anchor="end" fill="#ec1c24" stroke="#ec1c24" stroke-width="0.3">240</text>
<text transform="translate(663.60,298.90)" font-size="12.5" text-anchor="start" fill="#1d4f9f" stroke="#1d4f9f" stroke-width="0.3">100</text>
<text transform="translate(663.60,330.22)" font-size="12.5" text-anchor="start" fill="#1d4f9f" stroke="#1d4f9f" stroke-width="0.3">95</text>
<text transform="translate(663.60,361.55)" font-size="12.5" text-anchor="start" fill="#1d4f9f" stroke="#1d4f9f" stroke-width="0.3">90</text>
<text transform="translate(663.60,392.88)" font-size="12.5" text-anchor="start" fill="#1d4f9f" stroke="#1d4f9f" stroke-width="0.3">85</text>
<text transform="translate(663.60,424.20)" font-size="12.5" text-anchor="start" fill="#1d4f9f" stroke="#1d4f9f" stroke-width="0.3">80</text>
<text transform="translate(504.20,436.20)" font-size="12.8" text-anchor="middle" fill="#1a1a1a" stroke="#1a1a1a" stroke-width="0.45">0</text>
<text transform="translate(555.63,436.20)" font-size="12.8" text-anchor="middle" fill="#1a1a1a" stroke="#1a1a1a" stroke-width="0.45">40</text>
<text transform="translate(607.07,436.20)" font-size="12.8" text-anchor="middle" fill="#1a1a1a" stroke="#1a1a1a" stroke-width="0.45">80</text>
<text transform="translate(658.50,436.20)" font-size="12.8" text-anchor="middle" fill="#1a1a1a" stroke="#1a1a1a" stroke-width="0.45">120</text>
<text transform="translate(578.80,450.00)" font-size="12.8" text-anchor="middle" fill="#1a1a1a" stroke="#1a1a1a" stroke-width="0.45">Holding time/min</text>
<text transform="translate(469.60,355.00) rotate(-90)" font-size="12.8" text-anchor="middle" fill="#ec1c24" stroke="#ec1c24" stroke-width="0.45">Recovery temperature/K</text>
<text transform="translate(697.20,359.00) rotate(-90)" font-size="12.8" text-anchor="middle" fill="#1d4f9f" stroke="#1d4f9f" stroke-width="0.45">Shape recovery ratio/%</text>
<text transform="translate(465.10,270.20)" font-size="12.8" text-anchor="start" fill="#1a1a1a" stroke="#1a1a1a" stroke-width="0.45">(f)</text>
<polyline points="504.4,388.5 523.3,316.5 542.9,313.4 580.9,309.2 657.8,310.2" fill="none" stroke="#ec1c24" stroke-width="1.1"/>
<polyline points="504.4,323.5 523.3,320.9 542.9,329.8 580.9,326.2 657.8,323.4" fill="none" stroke="#1d4f9f" stroke-width="1.1"/>
<circle cx="504.4" cy="388.5" r="2.8" fill="#fff" stroke="#ec1c24" stroke-width="1.3"/>
<circle cx="523.3" cy="316.5" r="2.8" fill="#fff" stroke="#ec1c24" stroke-width="1.3"/>
<circle cx="542.9" cy="313.4" r="2.8" fill="#fff" stroke="#ec1c24" stroke-width="1.3"/>
<circle cx="580.9" cy="309.2" r="2.8" fill="#fff" stroke="#ec1c24" stroke-width="1.3"/>
<circle cx="657.8" cy="310.2" r="2.8" fill="#fff" stroke="#ec1c24" stroke-width="1.3"/>
<circle cx="504.4" cy="323.5" r="2.8" fill="#fff" stroke="#1d4f9f" stroke-width="1.3"/>
<circle cx="523.3" cy="320.9" r="2.8" fill="#fff" stroke="#1d4f9f" stroke-width="1.3"/>
<circle cx="542.9" cy="329.8" r="2.8" fill="#fff" stroke="#1d4f9f" stroke-width="1.3"/>
<circle cx="580.9" cy="326.2" r="2.8" fill="#fff" stroke="#1d4f9f" stroke-width="1.3"/>
<circle cx="657.8" cy="323.4" r="2.8" fill="#fff" stroke="#1d4f9f" stroke-width="1.3"/>
</svg>
</body></html>
